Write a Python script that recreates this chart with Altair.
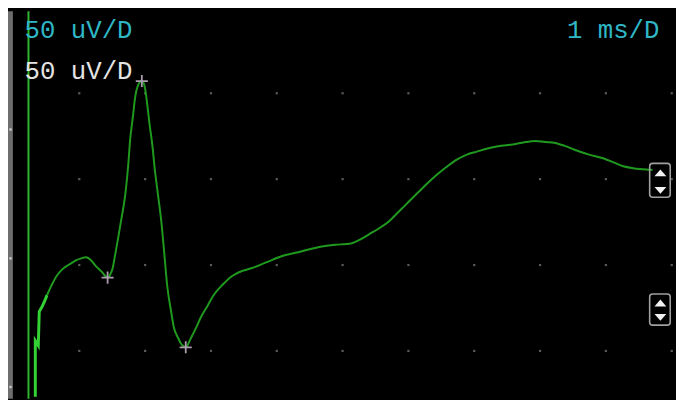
import altair as alt
import pandas as pd

# ---- trace (time in ms, amplitude in uV; 1 ms/D, 50 uV/D) ----
stim_t = [0.332, 0.332, 0.377, 0.392, 0.436, 0.481, 0.510]
stim_v = [-76.7, -44.0, -46.8, -27.1, -24.2, -20.3, -17.5]

trace_t = [0.510, 0.585, 0.659, 0.733, 0.807, 0.881, 0.955, 1.030, 1.104, 1.178,
           1.252, 1.341, 1.430, 1.475, 1.504, 1.549, 1.593, 1.638, 1.697,
           1.742, 1.772, 1.816, 1.846, 1.890, 1.950, 1.994, 2.039, 2.068, 2.113,
           2.142, 2.187, 2.246, 2.291, 2.335, 2.395, 2.439, 2.499, 2.543, 2.617,
           2.691, 2.766, 2.840, 2.958, 3.033, 3.181, 3.329, 3.478, 3.626, 3.849,
           4.071, 4.368, 4.665, 4.887, 5.110, 5.258, 5.407, 5.555, 5.703, 5.852,
           6.000, 6.148, 6.297, 6.445, 6.593, 6.742, 6.890, 7.039, 7.187, 7.409,
           7.632, 7.780, 7.929, 8.077, 8.226, 8.374, 8.522, 8.745, 8.967, 9.116,
           9.264, 9.412, 9.561, 9.709]
trace_v = [-17.5, -11.3, -6.2, -2.8, -0.6, 1.1, 2.8, 3.9, 4.5, 2.8,
           -0.6, -3.9, -7.3, -5.1, -2.3, 6.8, 16.4, 26.5, 40.6,
           57.5, 72.7, 86.8, 97.0, 104.3, 107.1, 103.8, 91.4, 81.8, 68.8,
           57.5, 43.4, 25.4, 6.8, -11.8, -27.1, -36.7, -42.3, -45.7, -47.9,
           -42.9, -37.2, -31.0, -23.1, -18.0, -11.3, -6.2, -3.4, -1.7, 1.7,
           5.1, 7.9, 10.7, 11.8, 12.4, 14.7, 18.0, 21.4, 25.4, 31.0,
           36.7, 42.3, 47.9, 53.0, 57.5, 61.5, 64.3, 66.0, 67.7, 69.4,
           70.5, 71.6, 72.2, 71.6, 71.1, 69.4, 67.1, 64.3, 62.0, 59.8,
           57.5, 56.4, 55.8, 55.3]

# cursor markers (+)
mark_t = [1.430, 1.950, 2.617]
mark_v = [-7.3, 107.1, -47.9]

# grid dots
grid_t = [1, 2, 3, 4, 5, 6, 7, 8, 9, 10]
grid_v = [-50, 0, 50, 100]

# trigger line
trig_t = [0.228]

# left bar and its ticks
bar_t = [-0.083]
bar_t2 = [-0.009]
bar_tick_t = [-0.045, -0.045, -0.045]
bar_tick_v = [78.9, 3.9, -71.0]

# labels
left_text = ["50 uV/D", "50 uV/D"]
left_t = [0.169, 0.169]
left_v = [131.9, 108.3]
left_col = ["#2fb7c6", "#e4e4e4"]
right_text = ["1 ms/D"]
right_t = [9.813]
right_v = [131.9]

# scroll boxes
box_t = [9.665, 9.665]
box_t2 = [9.977, 9.977]
box_v = [59.2, -16.9]
box_v2 = [39.5, -35.0]
tri_t = [9.828, 9.828, 9.828, 9.828]
tri_v = [53.6, 43.6, -22.2, -30.4]
tri_shape = ["M-1,0.55L0,-0.6L1,0.55Z", "M-1,-0.55L0,0.6L1,-0.55Z",
             "M-1,0.55L0,-0.6L1,0.55Z", "M-1,-0.55L0,0.6L1,-0.55Z"]

XD = [-0.083, 10.065]
YD = [-77.8, 147.7]
xs = alt.Scale(domain=XD, nice=False, zero=False)
ys = alt.Scale(domain=YD, nice=False, zero=False)


def X(f="t"):
    return alt.X(f"{f}:Q", scale=xs, axis=None)


def Y(f="v"):
    return alt.Y(f"{f}:Q", scale=ys, axis=None)


gx, gy = [], []
for a in grid_t:
    for b in grid_v:
        gx.append(a)
        gy.append(b)

grid = alt.Chart(pd.DataFrame({"t": gx, "v": gy})).mark_point(
    shape="square", filled=True, size=5, color="#5a5a5a", opacity=1
).encode(x=X(), y=Y())

bar = alt.Chart(pd.DataFrame({"t": bar_t, "t2": bar_t2})).mark_rect(
    color="#6e6e6e"
).encode(x=X(), x2="t2:Q", y=alt.value(0), y2=alt.value(392))

bar_ticks = alt.Chart(pd.DataFrame({"t": bar_tick_t, "v": bar_tick_v})).mark_point(
    shape="square", filled=True, size=6, color="#c8c8c8", opacity=1
).encode(x=X(), y=Y())

trig = alt.Chart(pd.DataFrame({"t": trig_t})).mark_rule(
    color="#2fb52f", strokeWidth=2
).encode(x=X())

labels_l = alt.Chart(pd.DataFrame({"t": left_t, "v": left_v, "s": left_text,
                                   "c": left_col})).mark_text(
    font="Liberation Mono", fontSize=26, baseline="alphabetic", align="left"
).encode(x=X(), y=Y(), text="s:N", color=alt.Color("c:N", scale=None))

labels_r = alt.Chart(pd.DataFrame({"t": right_t, "v": right_v, "s": right_text})).mark_text(
    font="Liberation Mono", fontSize=26, baseline="alphabetic", align="right",
    color="#2fb7c6"
).encode(x=X(), y=Y(), text="s:N")

stim = alt.Chart(pd.DataFrame({"t": stim_t, "v": stim_v, "o": list(range(len(stim_t)))})).mark_line(
    color="#33d133", strokeWidth=3, clip=True
).encode(x=X(), y=Y(), order="o:Q")

trace = alt.Chart(pd.DataFrame({"t": trace_t, "v": trace_v, "o": list(range(len(trace_t)))})).mark_line(
    color="#1f9a1f", strokeWidth=2, interpolate="monotone", clip=True
).encode(x=X(), y=Y(), order="o:Q")

marks = alt.Chart(pd.DataFrame({"t": mark_t, "v": mark_v})).mark_point(
    shape="M-1,0L1,0M0,-1L0,1", filled=False, size=150, strokeWidth=1.8,
    color="#ab9cae", opacity=1
).encode(x=X(), y=Y())

boxes = alt.Chart(pd.DataFrame({"t": box_t, "t2": box_t2, "v": box_v, "v2": box_v2})).mark_rect(
    fill="#000000", fillOpacity=0, stroke="#a0a0a0", strokeWidth=1.6, cornerRadius=3
).encode(x=X(), x2="t2:Q", y=Y(), y2="v2:Q")

tris = alt.Chart(pd.DataFrame({"t": tri_t, "v": tri_v, "sh": tri_shape})).mark_point(
    filled=True, size=144, color="#f2f2f2", opacity=1
).encode(x=X(), y=Y(), shape=alt.Shape("sh:N", scale=None))

chart = alt.layer(grid, bar, bar_ticks, trig, labels_l, labels_r, stim, trace, marks,
                  boxes, tris).properties(
    width=676, height=392, background="#000000", padding=0
).configure_view(stroke=None, fill="#000000")

chart.save("out.html", embed_options={"renderer": "svg", "actions": False})
